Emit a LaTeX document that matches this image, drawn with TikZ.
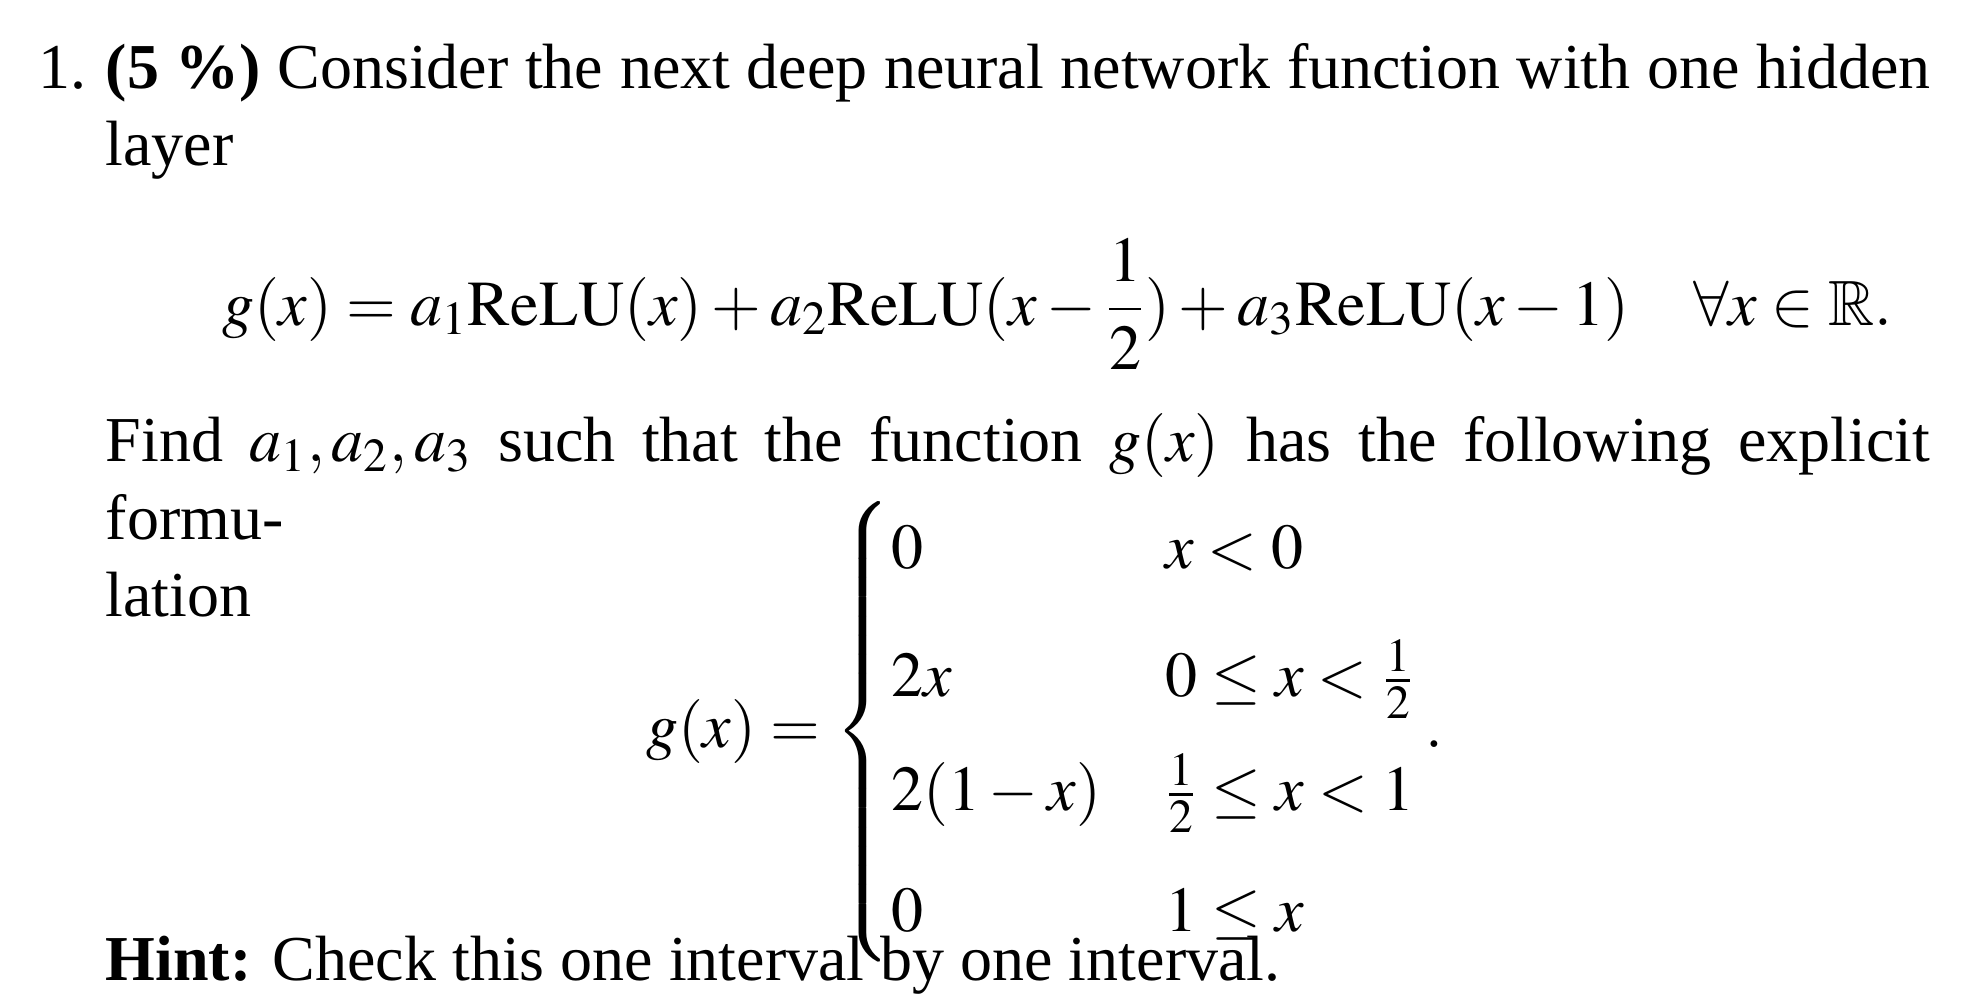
\documentclass[tikz,border=0pt]{standalone}
\usepackage{amsmath,amssymb}
\usepackage{mathptmx}
\usepackage[no-math]{fontspec}
\setmainfont{Liberation Serif}
\hyphenpenalty=10000\relax
\begin{document}
\begin{tikzpicture}[x=0.01265cm,y=-0.01265cm,
  txt/.style={inner sep=0pt,font=\fontsize{18.2}{22}\selectfont}]
\useasboundingbox (0,0) rectangle (1560,793);
\node[txt,anchor=base west] (num) at (30,70) {1.};
\node[txt,anchor=base west,text width=18.24cm,align=justify] (p1) at (83,70)
 {\textbf{(5 \%)} Consider the next deep neural network function with one hidden\linebreak layer};
\node[txt,anchor=base west] (eq1) at (175,257)
 {$g(x)=a_1\mathrm{ReLU}(x)+a_2\mathrm{ReLU}(x-\dfrac{1}{2})+a_3\mathrm{ReLU}(x-1)\quad \forall x\in\mathbb{R}.$};
\node[txt,anchor=base west,text width=18.24cm,align=justify] (p2) at (83,365)
 {Find $a_1,a_2,a_3$ such that the function $g(x)$ has the following explicit formu-\linebreak lation};
\node[txt,anchor=west] (eq2) at (510,578)
 {$g(x)=\begin{cases}0 & x<0\\[10pt] 2x & 0\le x<\frac12\\[6pt] 2(1-x) & \frac12\le x<1\\[8pt] 0 & 1\le x\end{cases}.$};
\node[txt,anchor=base west] (hint) at (83,775) {\textbf{Hint:} Check this one interval by one interval.};
\end{tikzpicture}
\end{document}
